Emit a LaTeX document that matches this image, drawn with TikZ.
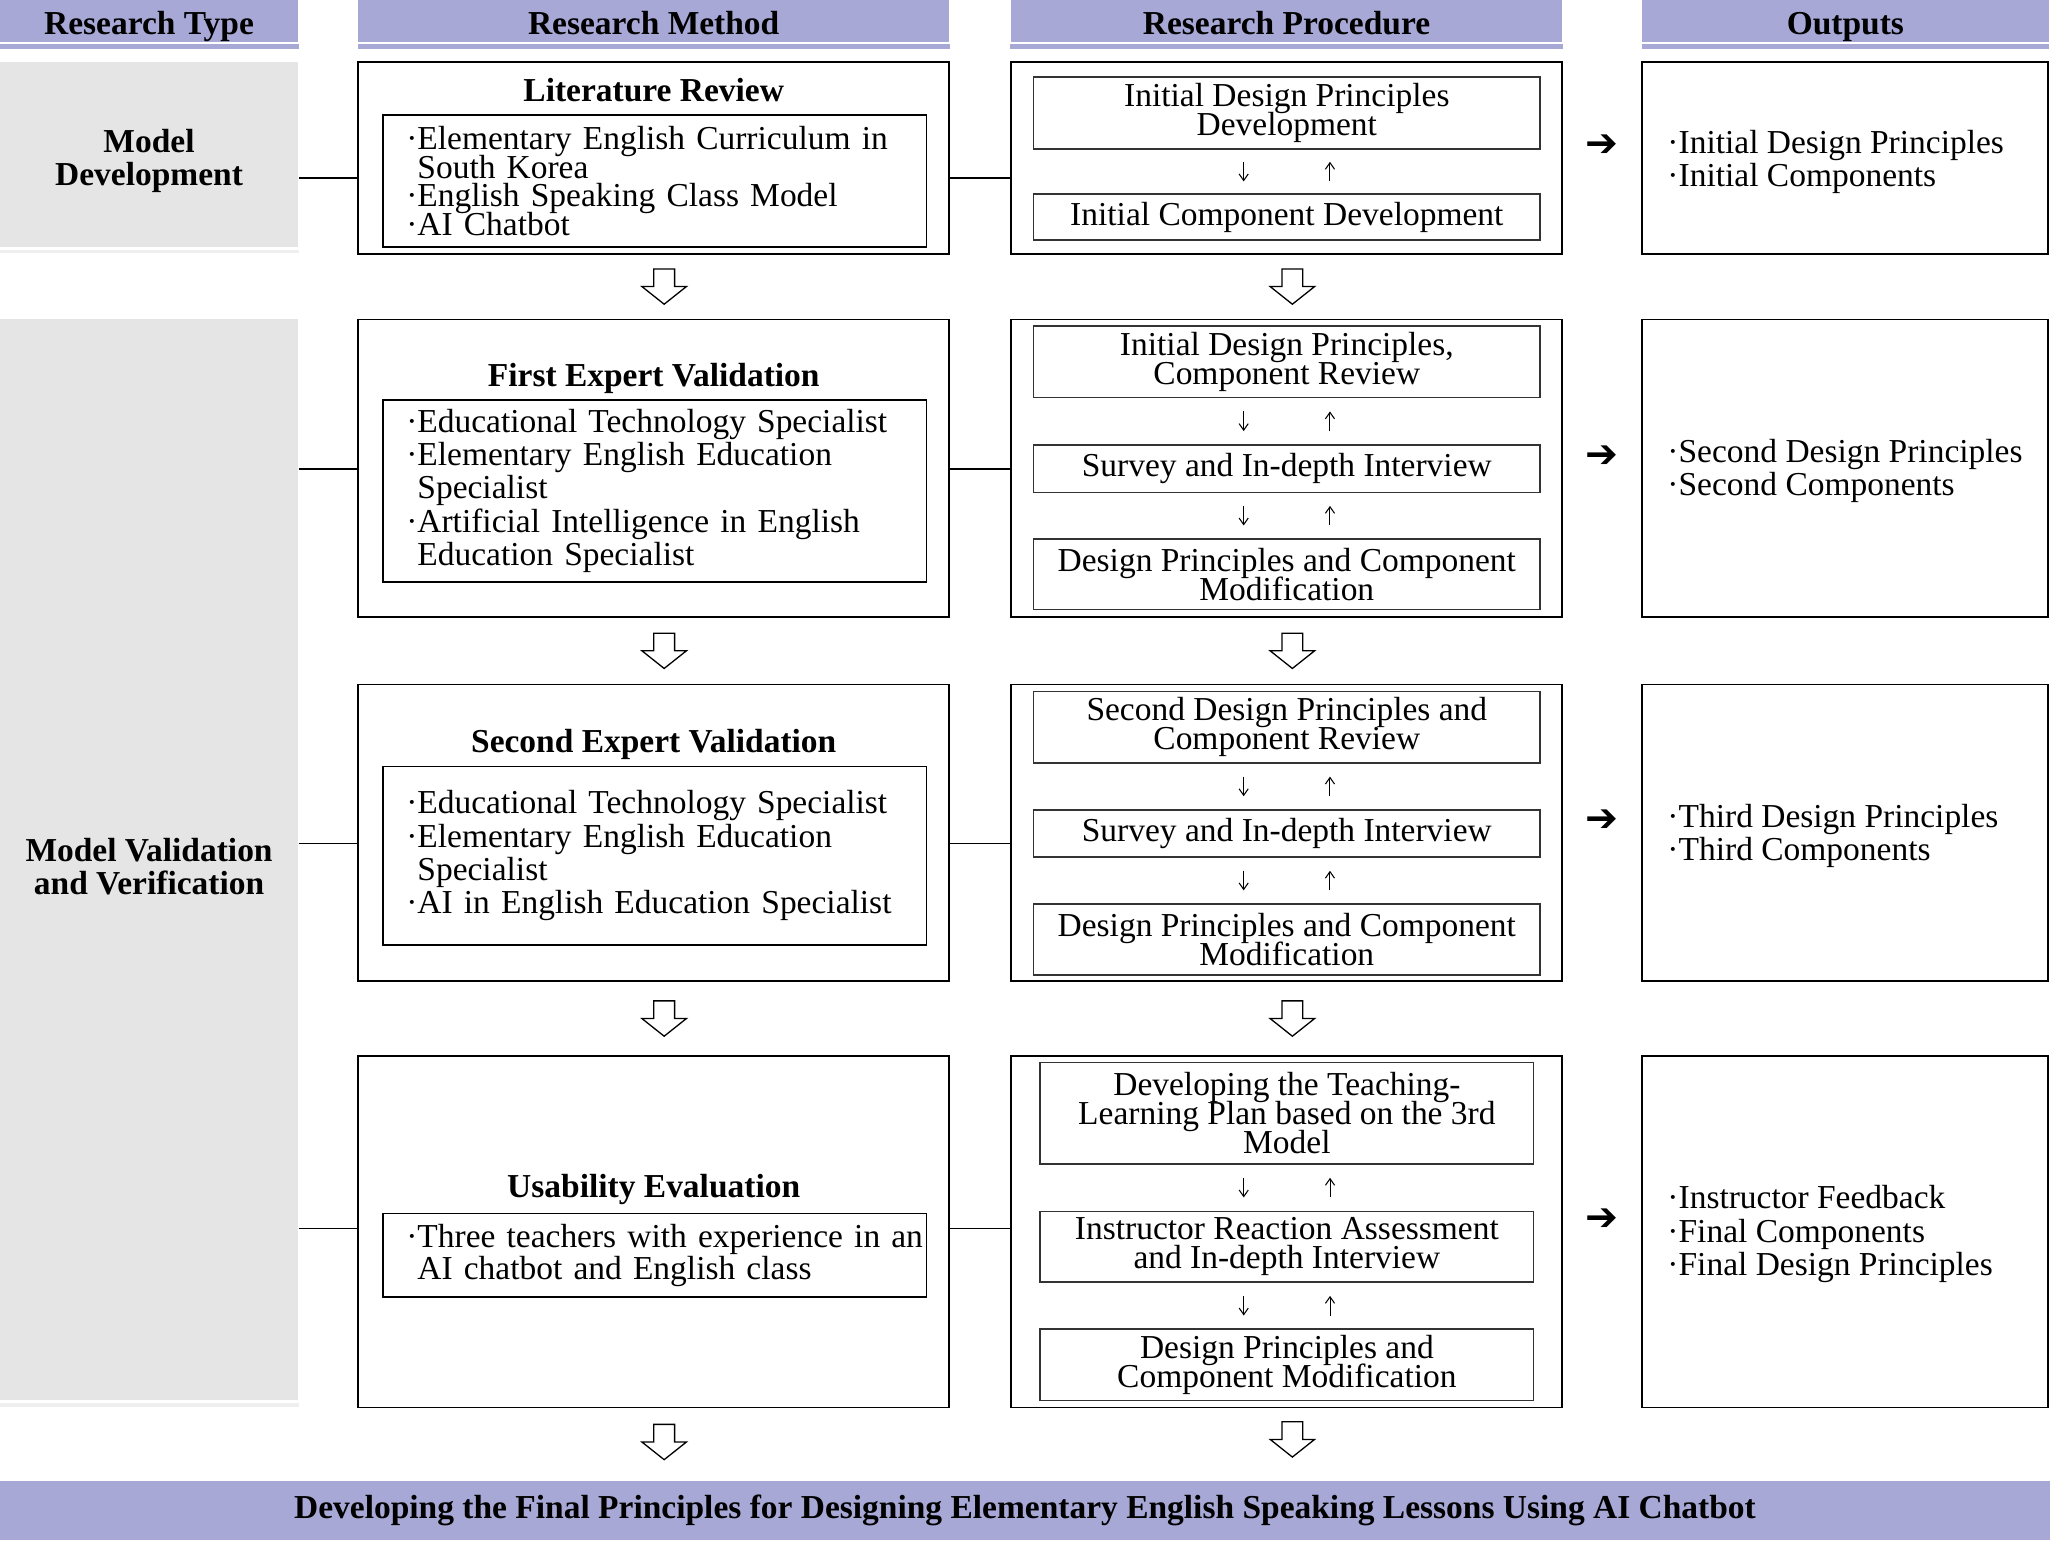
\documentclass[tikz,border=0pt]{standalone}
\usepackage{fontspec}
\setmainfont{Liberation Serif}
\newfontfamily\arrowfont{DejaVu Sans}
\usepackage{xcolor}
\usepackage{tikz}
\usetikzlibrary{calc,arrows.meta,positioning}
\setlength{\lineskiplimit}{-10pt}
\newcommand{\tightlines}{\lineskiplimit=-10pt\relax}
\definecolor{headblue}{RGB}{167,168,214}
\definecolor{sidegray}{RGB}{229,229,229}
\tikzset{
  headbar/.style={fill=headblue, inner sep=0pt, text height=13pt, text depth=3pt,
    font=\fontsize{12.8}{14}\selectfont\bfseries},
  sidebox/.style={fill=sidegray, inner sep=0pt},
  sidetext/.style={align=center, inner sep=0pt, font=\fontsize{12.8}{12.5}\selectfont\bfseries},
  outerbox/.style={draw, line width=0.7pt, inner sep=0pt},
  listbox/.style={draw, line width=0.6pt, align=left, text width=190pt, inner xsep=9pt,
    inner ysep=0pt, font=\fontsize{12.8}{12.75}\selectfont\tightlines},
  stepbox/.style={draw=black!80, line width=0.6pt, align=center, inner sep=0pt,
    font=\fontsize{12.8}{11}\selectfont\tightlines},
  methodtitle/.style={inner sep=0pt, font=\fontsize{12.8}{14}\selectfont\bfseries},
  outtext/.style={anchor=west, align=left, inner sep=0pt, font=\fontsize{12.8}{12.75}\selectfont},
  link/.style={line width=0.6pt},
  smallarr/.style={line width=0.4pt, -{Straight Barb[length=2.5pt,width=3.5pt]}},
  bigarr/.style={inner sep=0pt, font=\arrowfont\fontsize{15}{15}\selectfont},
  hollowdown/.pic={\draw[line width=0.5pt, fill=white] (-8,-13.5) -- (8,-13.5) -- (8,0)
    -- (17,0) -- (0,13.5) -- (-17,0) -- (-8,0) -- cycle;}
}
\begin{document}
\begin{tikzpicture}[x=0.5pt,y=-0.5pt]
        \useasboundingbox (0,0) rectangle (1568,1180);
        %标题栏
        \node[headbar, minimum width=114pt, minimum height=14.5pt] (hType) at (114,16) {Research Type};
        \node[headbar, minimum width=226pt, minimum height=14.5pt] (hMethod) at (500,16) {Research Method};
        \node[headbar, minimum width=211pt, minimum height=14.5pt] (hProc) at (984,16) {Research Procedure};
        \node[headbar, minimum width=155.5pt, minimum height=14.5pt] (hOut) at (1411.5,16) {Outputs};
        \foreach \h in {hType,hMethod,hProc,hOut}
                \fill[headblue] ([yshift=-0.7pt]\h.south west) rectangle ([yshift=-2.6pt]\h.south east);

        %左侧灰色栏
        \node[sidebox, minimum width=114pt, minimum height=70.75pt] (g1) at (114,118.25) {};
        \node[sidebox, minimum width=114pt, minimum height=413.5pt] (g2) at (114,657.5) {};
        \fill[sidegray!60] ([yshift=-0.75pt]g1.south west) rectangle ([yshift=-2pt]g1.south east);
        \fill[sidegray!60] ([yshift=-1pt]g2.south west) rectangle ([yshift=-2.5pt]g2.south east);
        \node[sidetext] (g1t) at (114,123) {Model\\Development};
        \node[sidetext] (g2t) at (114,663) {Model Validation\\and Verification};

        %研究方法
        \node[outerbox, minimum width=226pt, minimum height=73.25pt] (m1) at (500,120.75) {};
        \node[outerbox, minimum width=226pt, minimum height=113.85pt] (m2) at (500,358.2) {};
        \node[outerbox, minimum width=226pt, minimum height=113.5pt] (m3) at (500,637) {};
        \node[outerbox, minimum width=226pt, minimum height=134.5pt] (m4) at (500,942.1) {};
        \node[methodtitle] (m1t) at (500,69) {Literature Review};
        \node[methodtitle] (m2t) at (500,289.5) {First Expert Validation};
        \node[methodtitle] (m3t) at (500,569.5) {Second Expert Validation};
        \node[methodtitle] (m4t) at (500,910) {Usability Evaluation};
        \node[listbox, minimum height=50.5pt, font=\fontsize{12.8}{11}\selectfont\tightlines] (mi1) at (500.75,138.5)
                {·Elementary English Curriculum in\\\phantom{·}South Korea\\·English Speaking Class Model\\·AI Chatbot};
        \node[listbox, minimum height=69.5pt] (mi2) at (500.75,375.5)
                {·Educational Technology Specialist\\·Elementary English Education\\\phantom{·}Specialist\\·Artificial Intelligence in English\\\phantom{·}Education Specialist};
        \node[listbox, minimum height=68.3pt] (mi3) at (500.75,654.7)
                {·Educational Technology Specialist\\·Elementary English Education\\\phantom{·}Specialist\\·AI in English Education Specialist};
        \node[listbox, minimum height=32pt, font=\fontsize{12.8}{12.25}\selectfont\tightlines] (mi4) at (500.75,960)
                {\mbox{·Three teachers with experience in an}\\\phantom{·}AI chatbot and English class};

        %研究程序
        \node[outerbox, minimum width=211pt, minimum height=73.25pt] (p1) at (984,120.75) {};
        \node[outerbox, minimum width=211pt, minimum height=113.85pt] (p2) at (984,358.2) {};
        \node[outerbox, minimum width=211pt, minimum height=113.5pt] (p3) at (984,637) {};
        \node[outerbox, minimum width=211pt, minimum height=134.5pt] (p4) at (984,942.1) {};
        \node[stepbox, minimum width=193.75pt, minimum height=27.5pt] (pA1) at (984.25,86.5) {Initial Design Principles\\Development};
        \node[stepbox, minimum width=193.75pt, minimum height=17.6pt] (pB1) at (984.25,166.1) {Initial Component Development};
        \node[stepbox, minimum width=193.75pt, minimum height=27.3pt] (pA2) at (984.25,276.7) {Initial Design Principles,\\Component Review};
        \node[stepbox, minimum width=193.75pt, minimum height=18.1pt] (pB2) at (984.25,358.5) {Survey and In-depth Interview};
        \node[stepbox, minimum width=193.75pt, minimum height=27pt] (pC2) at (984.25,439.25) {Design Principles and Component\\Modification};
        \node[stepbox, minimum width=193.75pt, minimum height=27.2pt] (pA3) at (984.25,556.2) {Second Design Principles and\\Component Review};
        \node[stepbox, minimum width=193.75pt, minimum height=17.9pt] (pB3) at (984.25,637.5) {Survey and In-depth Interview};
        \node[stepbox, minimum width=193.75pt, minimum height=27.1pt] (pC3) at (984.25,718.7) {Design Principles and Component\\Modification};
        \node[stepbox, minimum width=188.7pt, minimum height=38.75pt] (pA4) at (984.3,851.5) {Developing the Teaching-\\Learning Plan based on the 3rd\\Model};
        \node[stepbox, minimum width=188.7pt, minimum height=27.1pt] (pB4) at (984.3,953.6) {Instructor Reaction Assessment\\and In-depth Interview};
        \node[stepbox, minimum width=188.7pt, minimum height=27.35pt] (pC4) at (984.3,1044) {Design Principles and\\Component Modification};
        \foreach \a/\b in {pA1/pB1,pA2/pB2,pB2/pC2,pA3/pB3,pB3/pC3,pA4/pB4,pB4/pC4}
        {
                \draw[smallarr] ($(\a.south)!0.5!(\b.north)+(-33,-7.5)$) -- ++(0,15);
                \draw[smallarr] ($(\a.south)!0.5!(\b.north)+(33,7.5)$) -- ++(0,-15);
        };

        %成果
        \node[outerbox, minimum width=155.25pt, minimum height=73.25pt] (o1) at (1411.25,120.75) {};
        \node[outerbox, minimum width=155.25pt, minimum height=113.85pt] (o2) at (1411.25,358.2) {};
        \node[outerbox, minimum width=155.25pt, minimum height=113.5pt] (o3) at (1411.25,637) {};
        \node[outerbox, minimum width=155.25pt, minimum height=134.5pt] (o4) at (1411.25,942.1) {};
        \node[outtext] (o1t) at (1275,123.75) {·Initial Design Principles\\·Initial Components};
        \node[outtext] (o2t) at (1275,360) {·Second Design Principles\\·Second Components};
        \node[outtext] (o3t) at (1275,639.4) {·Third Design Principles\\·Third Components};
        \node[outtext] (o4t) at (1275,944) {·Instructor Feedback\\·Final Components\\·Final Design Principles};
        \foreach \n in {1,...,4}
                \node[bigarr] (arr\n) at ($(p\n.east)!0.5!(o\n.west)+(0,-9)$) {➔};

        %连线
        \coordinate (r1) at (0,136);
        \coordinate (r2) at (0,358.8);
        \coordinate (r3) at (0,645);
        \coordinate (r4) at (0,939.5);
        \draw[link] (g1.east |- r1) -- (m1.west |- r1);
        \draw[link] (m1.east |- r1) -- (p1.west |- r1);
        \foreach \n in {2,3,4}
        {
                \draw[link] (g2.east |- r\n) -- (m\n.west |- r\n);
                \draw[link] (m\n.east |- r\n) -- (p\n.west |- r\n);
        };

        %底栏
        \node[fill=headblue, minimum width=784pt, minimum height=22.5pt, inner sep=0pt,
                text height=9pt, text depth=3pt, font=\fontsize{12.8}{14}\selectfont\bfseries] (final) at (784,1155.5)
                {Developing the Final Principles for Designing Elementary English Speaking Lessons Using AI Chatbot};

        %空心箭头
        \foreach \a/\b/\dx in {m1/m2/8,m2/m3/8,m3/m4/8,p1/p2/4.5,p2/p3/4.5,p3/p4/4.5}
                \pic at ($(\a.south)!0.5!(\b.north)+(\dx,0)$) {hollowdown};
        \pic at ($(m4.south)!0.5!(m4.south |- final.north)+(8,-2)$) {hollowdown};
        \pic at ($(p4.south)!0.5!(p4.south |- final.north)+(4.5,-4)$) {hollowdown};
\end{tikzpicture}
\end{document}
